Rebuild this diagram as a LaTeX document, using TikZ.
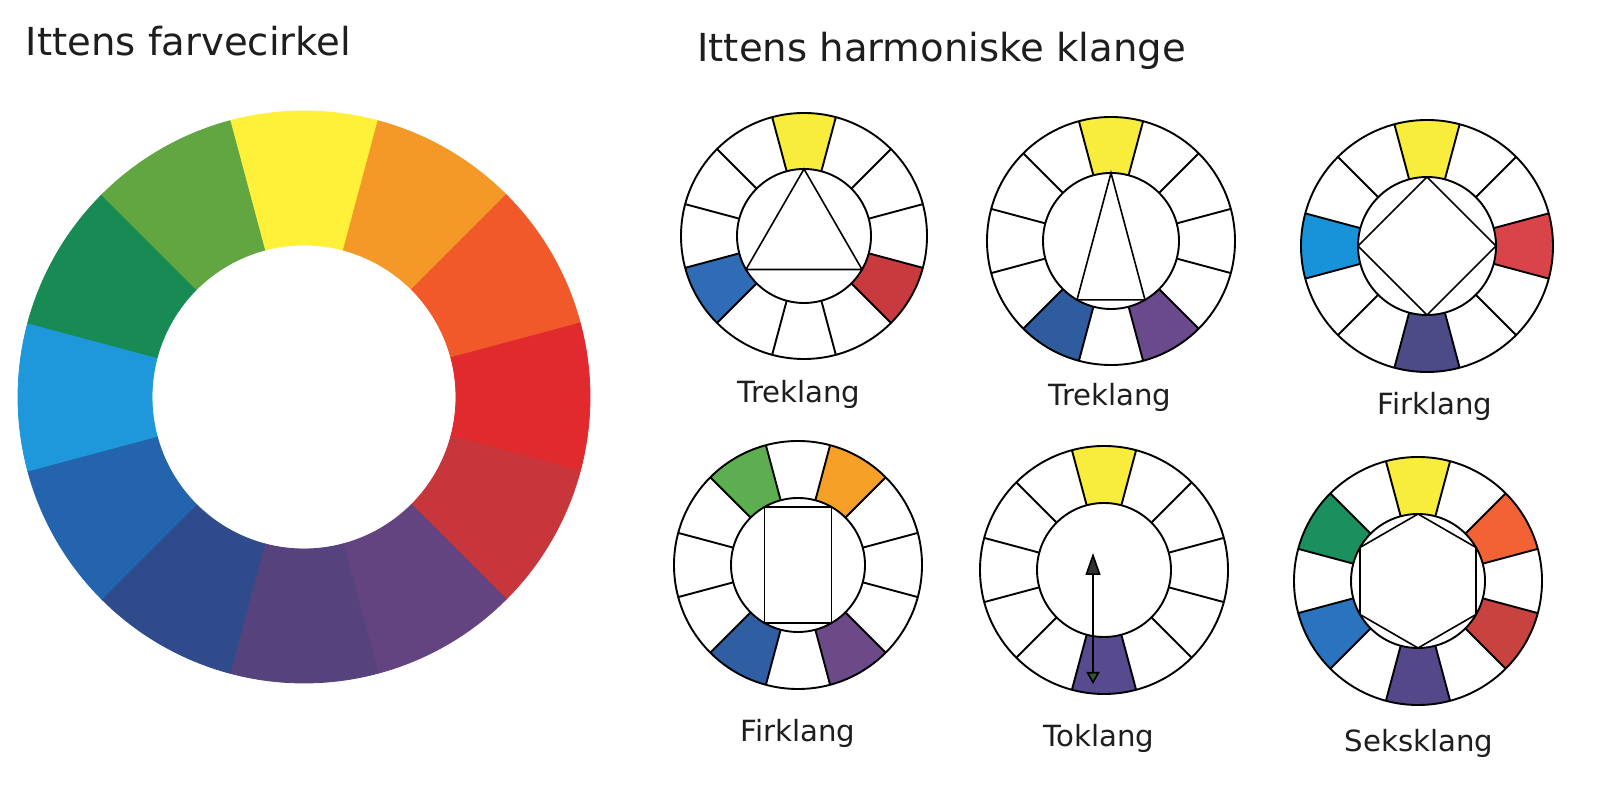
\documentclass[tikz,border=0pt]{standalone}
\usepackage{fontspec}
\setmainfont{DejaVu Sans}
\usetikzlibrary{arrows.meta}
\definecolor{bY}{HTML}{FFF03A}
\definecolor{bYO}{HTML}{F49828}
\definecolor{bO}{HTML}{F2592A}
\definecolor{bR}{HTML}{E02A2D}
\definecolor{bRV}{HTML}{C7363B}
\definecolor{bV}{HTML}{634480}
\definecolor{bBV}{HTML}{56437D}
\definecolor{bB}{HTML}{2F4B8B}
\definecolor{bBB}{HTML}{2464AC}
\definecolor{bC}{HTML}{1E98DA}
\definecolor{bG}{HTML}{188B55}
\definecolor{bYG}{HTML}{62A641}
\definecolor{sY}{HTML}{F8EC3C}
\definecolor{sB}{HTML}{2F6CB5}
\definecolor{sR}{HTML}{C93A3E}
\definecolor{sB2}{HTML}{2E5C9E}
\definecolor{sV}{HTML}{6A4A8C}
\definecolor{sC}{HTML}{1893D9}
\definecolor{sR3}{HTML}{D9444A}
\definecolor{sBV}{HTML}{4C4A87}
\definecolor{sG}{HTML}{5DAE50}
\definecolor{sO}{HTML}{F6A028}
\definecolor{sB4}{HTML}{2F5EA3}
\definecolor{sV4}{HTML}{6B4A87}
\definecolor{sV5}{HTML}{574A8E}
\definecolor{sG6}{HTML}{1B8F5E}
\definecolor{sRO}{HTML}{F26234}
\definecolor{sB6}{HTML}{2A73BF}
\definecolor{sR6}{HTML}{C84240}
\definecolor{sV6}{HTML}{55488A}
\definecolor{txt}{HTML}{1E1E1E}
\tikzset{
  wheelline/.style={draw=black,line width=0.95pt},
  polyline/.style={draw=black,line width=0.8pt,line join=miter},
  label/.style={anchor=base,text=txt,font=\fontsize{14.6pt}{17pt}\selectfont,inner sep=0pt},
  titlelabel/.style={anchor=base west,text=txt,inner sep=0pt,font=\fontsize{19.3pt}{22pt}\selectfont}
}
\newcommand\drawwheel[6]{%
  \begin{scope}[shift={(#1,#2)}]
    \foreach \a/\c in {#5} {
      \fill[\c] (\a-15:#3) arc[start angle=\a-15,end angle=\a+15,radius=#3]
        -- (\a+15:#4) arc[start angle=\a+15,end angle=\a-15,radius=#4] -- cycle;
    }
    \draw[wheelline] (0,0) circle[radius=#3];
    \draw[wheelline] (0,0) circle[radius=#4];
    \foreach \k in {15,45,...,345} \draw[wheelline] (\k:#4) -- (\k:#3);
    #6
  \end{scope}}
\begin{document}
\begin{tikzpicture}[x=0.5pt,y=0.5pt,line join=round]
\useasboundingbox (0,0) rectangle (1600,797);
\fill[white] (0,0) rectangle (1600,797);

% titles
\node[titlelabel] (title1) at (25.5,741) {Ittens farvecirkel};
\node[titlelabel] (title2) at (697,735) {Ittens harmoniske klange};

% big colour circle
\begin{scope}[shift={(304,400)}]
  \foreach \a/\c in {90/bY,60/bYO,30/bO,0/bR,-30/bRV,-60/bV,-90/bBV,-120/bB,-150/bBB,180/bC,150/bG,120/bYG} {
    \filldraw[fill=\c,draw=\c,line width=0.4pt] (\a-15:286) arc[start angle=\a-15,end angle=\a+15,radius=286]
      -- (\a+15:152) arc[start angle=\a+15,end angle=\a-15,radius=152] -- cycle;
  }
\end{scope}

% Treklang 1
\drawwheel{804}{561}{123}{67}{90/sY,-150/sB,-30/sR}{%
  \draw[polyline] (90:67) -- (210:67) -- (330:67) -- cycle;}
% Treklang 2
\drawwheel{1111}{556}{124}{68}{90/sY,-120/sB2,-60/sV}{%
  \draw[polyline] (90:68) -- (240:68) -- (300:68) -- cycle;}
% Firklang 1
\drawwheel{1427}{551}{126}{69}{90/sY,0/sR3,-90/sBV,180/sC}{%
  \draw[polyline] (90:69) -- (0:69) -- (270:69) -- (180:69) -- cycle;}
% Firklang 2
\drawwheel{798}{232}{124}{67}{120/sG,60/sO,-120/sB4,-60/sV4}{%
  \draw[polyline] (60:67) -- (120:67) -- (240:67) -- (300:67) -- cycle;}
% Toklang
\drawwheel{1104}{227}{124}{67}{90/sY,-90/sV5}{%
  \coordinate (tokbot) at (-11,-114);
  \coordinate (toktop) at (-11,17);
  \draw[line width=0.8pt,{Triangle[length=6pt,width=6.5pt,fill=black!75!green!60!gray]}-{Triangle[length=11pt,width=7.5pt,fill=black!80]}] (tokbot) -- (toktop);}
% Seksklang
\drawwheel{1418}{216}{124}{67}{90/sY,30/sRO,-30/sR6,-90/sV6,-150/sB6,150/sG6}{%
  \draw[polyline] (90:67) -- (30:67) -- (-30:67) -- (-90:67) -- (-150:67) -- (150:67) -- cycle;}

% labels
\node[label] (l1) at (799,394) {Treklang};
\node[label] (l2) at (1110,391) {Treklang};
\node[label] (l3) at (1435,382) {Firklang};
\node[label] (l4) at (798,55) {Firklang};
\node[label] (l5) at (1099,50) {Toklang};
\node[label] (l6) at (1419,45) {Seksklang};
\end{tikzpicture}
\end{document}
